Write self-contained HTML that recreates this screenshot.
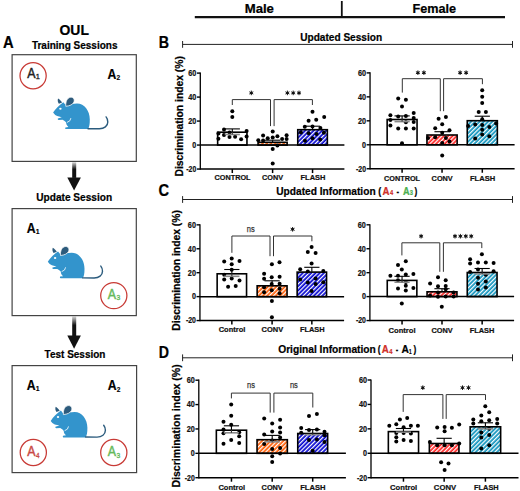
<!DOCTYPE html>
<html><head><meta charset="utf-8"><style>
html,body{margin:0;padding:0;background:#fff;width:520px;height:491px;overflow:hidden}
svg{display:block;font-family:"Liberation Sans", sans-serif}
</style></head><body>
<svg width="520" height="491" viewBox="0 0 520 491" font-family='"Liberation Sans", sans-serif'>
<rect width="520" height="491" fill="#fff"/>

<defs>
 <pattern id="hOr" width="3.0" height="3.0" patternUnits="userSpaceOnUse" patternTransform="rotate(45)">
  <rect width="3.0" height="3.0" fill="#ff5e05"/><rect width="1.25" height="3.0" fill="#fff"/></pattern>
 <pattern id="hBl" width="3.0" height="3.0" patternUnits="userSpaceOnUse" patternTransform="rotate(45)">
  <rect width="3.0" height="3.0" fill="#0505d0"/><rect width="1.25" height="3.0" fill="#fff"/></pattern>
 <pattern id="hRd" width="3.0" height="3.0" patternUnits="userSpaceOnUse" patternTransform="rotate(45)">
  <rect width="3.0" height="3.0" fill="#ff2424"/><rect width="1.25" height="3.0" fill="#fff"/></pattern>
 <pattern id="hTl" width="3.0" height="3.0" patternUnits="userSpaceOnUse" patternTransform="rotate(45)">
  <rect width="3.0" height="3.0" fill="#0f93bd"/><rect width="1.25" height="3.0" fill="#fff"/></pattern>
 <linearGradient id="arrowG" x1="0" y1="0" x2="0" y2="1">
  <stop offset="0" stop-color="#000" stop-opacity="0.15"/><stop offset="0.45" stop-color="#111" stop-opacity="1"/><stop offset="1" stop-color="#111"/></linearGradient>
 <g id="mouse">
  <path d="M53.1 112.6 C55.5 109 59.5 104.6 63.3 102.2 L65.2 104.6 C68.5 105.2 72 103.6 77 103.6 C84.5 103.6 89.8 111 89.8 119.5 C89.8 124.5 89.3 127.6 87.8 129.1 L66 129.1 Q65.1 129.1 65.2 128.2 L65.4 127.4 L68.4 127 C66.8 125.6 66 124 66.2 122.6 C64.8 121.2 63.6 120.2 62.6 119.8 L58.6 119.9 Q57.4 119.6 57.8 118.4 L61.8 117.2 L57.2 116.1 Q54.6 115.1 53.1 112.6 Z" fill="#3394cc"/>
  <path d="M65.8 106.3 C65.4 102 67 97.7 70.6 97.3 C73.5 97 74.9 99.6 73.9 102.1 C72.9 104.5 69.7 106 65.8 106.3 Z" fill="#2d5b7c" stroke="#fff" stroke-width="0.75"/>
  <path d="M62.1 102.5 C60.9 100.8 59.7 99.3 58.1 98.5 C57.4 100.2 57.7 102.3 58.9 103.7 Z" fill="#2d5b7c"/>
  <ellipse cx="60.4" cy="108.7" rx="1.2" ry="1.0" fill="#fff"/>
  <path d="M70.9 118.1 Q70.7 121.4 67 122.4" stroke="#fff" stroke-width="0.8" fill="none"/>
  <path d="M88 128.7 L99.4 128.8 C104.2 128.8 107.8 126 107.8 122 C107.8 119.6 107 118 106.1 116.9" stroke="#2b5b7d" stroke-width="1.4" fill="none" stroke-linecap="round"/>
 </g>
</defs>
<text x="3.03" y="47.8" font-size="16.2" font-weight="bold" fill="#000" stroke="#000" stroke-width="0.22" textLength="10.67" lengthAdjust="spacingAndGlyphs" >A</text>
<text x="59.54" y="35.3" font-size="15" font-weight="bold" fill="#000" stroke="#000" stroke-width="0.22" textLength="29.39" lengthAdjust="spacingAndGlyphs" >OUL</text>
<text x="31.90" y="48.6" font-size="11" font-weight="bold" fill="#000" stroke="#000" stroke-width="0.22" textLength="85.61" lengthAdjust="spacingAndGlyphs" >Training Sessions</text>
<text x="36.29" y="200.7" font-size="11" font-weight="bold" fill="#000" stroke="#000" stroke-width="0.22" textLength="75.81" lengthAdjust="spacingAndGlyphs" >Update Session</text>
<text x="44.60" y="358.4" font-size="11" font-weight="bold" fill="#000" stroke="#000" stroke-width="0.22" textLength="60.80" lengthAdjust="spacingAndGlyphs" >Test Session</text>
<rect x="12.1" y="54.7" width="124.20000000000002" height="106.7" fill="none" stroke="#444" stroke-width="1.2"/>
<rect x="12.1" y="208.6" width="124.20000000000002" height="107.00000000000003" fill="none" stroke="#444" stroke-width="1.2"/>
<rect x="12.1" y="365.6" width="124.5" height="107.0" fill="none" stroke="#444" stroke-width="1.2"/>
<rect x="72.2" y="162.2" width="4" height="15.700000000000017" fill="url(#arrowG)"/>
<path d="M67.3 177.4 L80.9 177.4 L74.1 190.6 Z" fill="#111"/>
<rect x="72.2" y="316.4" width="4" height="19.700000000000045" fill="url(#arrowG)"/>
<path d="M67.3 335.6 L80.9 335.6 L74.1 348.8 Z" fill="#111"/>
<use href="#mouse"/>
<use href="#mouse" transform="translate(-5.3 149.2)"/>
<use href="#mouse" transform="translate(-2.4 308.3)"/>
<circle cx="33.1" cy="75.75" r="13.1" fill="none" stroke="#c83a35" stroke-width="1.25"/>
<circle cx="113.8" cy="295.6" r="13.1" fill="none" stroke="#c83a35" stroke-width="1.25"/>
<circle cx="33.3" cy="452.5" r="13.1" fill="none" stroke="#c83a35" stroke-width="1.25"/>
<circle cx="113.8" cy="452.5" r="13.1" fill="none" stroke="#c83a35" stroke-width="1.25"/>
<text x="27.17" y="78.2" font-size="13.8" font-weight="normal" fill="#222" stroke="#222" stroke-width="0.45" textLength="8.26" lengthAdjust="spacingAndGlyphs">A</text>
<text x="35.65" y="79.4" font-size="7.8" font-weight="normal" fill="#222" stroke="#222" stroke-width="0.32" textLength="4.12" lengthAdjust="spacingAndGlyphs">1</text>
<text x="107.49" y="78.5" font-size="13.8" font-weight="bold" fill="#000" stroke="#000" stroke-width="0.22" textLength="8.84" lengthAdjust="spacingAndGlyphs">A</text>
<text x="116.57" y="79.7" font-size="7.8" font-weight="bold" fill="#000" stroke="#000" stroke-width="0.15" textLength="3.69" lengthAdjust="spacingAndGlyphs">2</text>
<text x="26.79" y="232.8" font-size="13.8" font-weight="bold" fill="#000" stroke="#000" stroke-width="0.22" textLength="8.84" lengthAdjust="spacingAndGlyphs">A</text>
<text x="35.67" y="234.0" font-size="7.8" font-weight="bold" fill="#000" stroke="#000" stroke-width="0.15" textLength="3.83" lengthAdjust="spacingAndGlyphs">1</text>
<text x="107.77" y="298.8" font-size="13.8" font-weight="normal" fill="#66b95a" stroke="#66b95a" stroke-width="0.45" textLength="8.26" lengthAdjust="spacingAndGlyphs">A</text>
<text x="116.55" y="300.0" font-size="7.8" font-weight="normal" fill="#66b95a" stroke="#66b95a" stroke-width="0.32" textLength="3.75" lengthAdjust="spacingAndGlyphs">3</text>
<text x="26.79" y="389.9" font-size="13.8" font-weight="bold" fill="#000" stroke="#000" stroke-width="0.22" textLength="8.84" lengthAdjust="spacingAndGlyphs">A</text>
<text x="35.67" y="391.09999999999997" font-size="7.8" font-weight="bold" fill="#000" stroke="#000" stroke-width="0.15" textLength="3.83" lengthAdjust="spacingAndGlyphs">1</text>
<text x="107.79" y="390.4" font-size="13.8" font-weight="bold" fill="#000" stroke="#000" stroke-width="0.22" textLength="8.84" lengthAdjust="spacingAndGlyphs">A</text>
<text x="116.87" y="391.59999999999997" font-size="7.8" font-weight="bold" fill="#000" stroke="#000" stroke-width="0.15" textLength="3.69" lengthAdjust="spacingAndGlyphs">2</text>
<text x="27.17" y="456.4" font-size="13.8" font-weight="normal" fill="#c94a45" stroke="#c94a45" stroke-width="0.45" textLength="8.26" lengthAdjust="spacingAndGlyphs">A</text>
<text x="36.06" y="457.59999999999997" font-size="7.8" font-weight="normal" fill="#c94a45" stroke="#c94a45" stroke-width="0.32" textLength="3.52" lengthAdjust="spacingAndGlyphs">4</text>
<text x="107.77" y="456.4" font-size="13.8" font-weight="normal" fill="#66b95a" stroke="#66b95a" stroke-width="0.45" textLength="8.26" lengthAdjust="spacingAndGlyphs">A</text>
<text x="116.55" y="457.59999999999997" font-size="7.8" font-weight="normal" fill="#66b95a" stroke="#66b95a" stroke-width="0.32" textLength="3.75" lengthAdjust="spacingAndGlyphs">3</text>
<text x="244.71" y="12.6" font-size="12.6" font-weight="bold" fill="#000" stroke="#000" stroke-width="0.22" textLength="29.22" lengthAdjust="spacingAndGlyphs" >Male</text>
<text x="412.55" y="12.6" font-size="12.6" font-weight="bold" fill="#000" stroke="#000" stroke-width="0.22" textLength="43.58" lengthAdjust="spacingAndGlyphs" >Female</text>
<line x1="194.8" y1="17.2" x2="505" y2="17.2" stroke="#111" stroke-width="2.2" />
<line x1="341.8" y1="1" x2="341.8" y2="17.5" stroke="#111" stroke-width="1.8" />
<text x="158.64" y="47.6" font-size="16.2" font-weight="bold" fill="#000" stroke="#000" stroke-width="0.22" textLength="10.30" lengthAdjust="spacingAndGlyphs" >B</text>
<text x="158.51" y="195.8" font-size="16.2" font-weight="bold" fill="#000" stroke="#000" stroke-width="0.22" textLength="10.64" lengthAdjust="spacingAndGlyphs" >C</text>
<text x="158.64" y="357.6" font-size="16.2" font-weight="bold" fill="#000" stroke="#000" stroke-width="0.22" textLength="10.26" lengthAdjust="spacingAndGlyphs" >D</text>
<line x1="182.6" y1="44.4" x2="512.5" y2="44.4" stroke="#222" stroke-width="1.0" />
<line x1="182.6" y1="41.0" x2="182.6" y2="47.8" stroke="#222" stroke-width="1.0" />
<line x1="512.5" y1="41.0" x2="512.5" y2="47.8" stroke="#222" stroke-width="1.0" />
<line x1="182.6" y1="199.5" x2="512.5" y2="199.5" stroke="#222" stroke-width="1.0" />
<line x1="182.6" y1="196.1" x2="182.6" y2="202.9" stroke="#222" stroke-width="1.0" />
<line x1="512.5" y1="196.1" x2="512.5" y2="202.9" stroke="#222" stroke-width="1.0" />
<line x1="182.6" y1="357.8" x2="512.5" y2="357.8" stroke="#222" stroke-width="1.0" />
<line x1="182.6" y1="354.40000000000003" x2="182.6" y2="361.2" stroke="#222" stroke-width="1.0" />
<line x1="512.5" y1="354.40000000000003" x2="512.5" y2="361.2" stroke="#222" stroke-width="1.0" />
<text x="300.19" y="40.6" font-size="11" font-weight="bold" fill="#000" stroke="#000" stroke-width="0.22" textLength="81.92" lengthAdjust="spacingAndGlyphs" >Updated Session</text>
<text x="276.29" y="194.5" font-size="11" font-weight="bold" fill="#000" stroke="#000" stroke-width="0.22" textLength="99.32" lengthAdjust="spacingAndGlyphs" >Updated Information</text>
<text x="378.2" y="195.1" font-size="11" font-weight="bold" fill="#000" stroke="#000" stroke-width="0.22" textLength="3.0" lengthAdjust="spacingAndGlyphs">(</text>
<text x="382.5" y="194.5" font-size="11" font-weight="bold" fill="#d0302a" stroke="#d0302a" stroke-width="0.22" textLength="7.0" lengthAdjust="spacingAndGlyphs">A</text>
<text x="389.9" y="195.4" font-size="7" font-weight="bold" fill="#d0302a" stroke="#d0302a" stroke-width="0.22" textLength="3.2" lengthAdjust="spacingAndGlyphs">4</text>
<text x="396.4" y="194.5" font-size="11" font-weight="bold" fill="#000" stroke="#000" stroke-width="0.22" textLength="2.6" lengthAdjust="spacingAndGlyphs">-</text>
<text x="403.0" y="194.5" font-size="11" font-weight="bold" fill="#4caf50" stroke="#4caf50" stroke-width="0.22" textLength="6.6" lengthAdjust="spacingAndGlyphs">A</text>
<text x="409.8" y="195.4" font-size="7" font-weight="bold" fill="#4caf50" stroke="#4caf50" stroke-width="0.22" textLength="3.2" lengthAdjust="spacingAndGlyphs">3</text>
<text x="414.4" y="195.1" font-size="11" font-weight="bold" fill="#000" stroke="#000" stroke-width="0.22" textLength="2.8" lengthAdjust="spacingAndGlyphs">)</text>
<text x="278.19" y="352.6" font-size="11" font-weight="bold" fill="#000" stroke="#000" stroke-width="0.22" textLength="97.63" lengthAdjust="spacingAndGlyphs" >Original Information</text>
<text x="377.7" y="353.20000000000005" font-size="11" font-weight="bold" fill="#000" stroke="#000" stroke-width="0.22" textLength="2.8" lengthAdjust="spacingAndGlyphs">(</text>
<text x="381.8" y="352.6" font-size="11" font-weight="bold" fill="#d0302a" stroke="#d0302a" stroke-width="0.22" textLength="7.1" lengthAdjust="spacingAndGlyphs">A</text>
<text x="389.2" y="353.5" font-size="7" font-weight="bold" fill="#d0302a" stroke="#d0302a" stroke-width="0.22" textLength="3.2" lengthAdjust="spacingAndGlyphs">4</text>
<text x="395.7" y="352.6" font-size="11" font-weight="bold" fill="#000" stroke="#000" stroke-width="0.22" textLength="2.5" lengthAdjust="spacingAndGlyphs">-</text>
<text x="401.5" y="352.6" font-size="11" font-weight="bold" fill="#000" stroke="#000" stroke-width="0.22" textLength="7.4" lengthAdjust="spacingAndGlyphs">A</text>
<text x="409.0" y="353.5" font-size="7" font-weight="bold" fill="#000" stroke="#000" stroke-width="0.22" textLength="2.6" lengthAdjust="spacingAndGlyphs">1</text>
<text x="413.5" y="353.20000000000005" font-size="11" font-weight="bold" fill="#000" stroke="#000" stroke-width="0.22" textLength="2.8" lengthAdjust="spacingAndGlyphs">)</text>
<text x="183.0" y="116.3" font-size="10.9" font-weight="bold" stroke="#000" stroke-width="0.22" text-anchor="middle" textLength="120.4" lengthAdjust="spacingAndGlyphs" transform="rotate(-90 183.0 116.3)">Discrimination index (%)</text>
<line x1="196.9" y1="73.1" x2="200.3" y2="73.1" stroke="#000" stroke-width="1.4" />
<text x="188.20000000000002" y="75.94999999999999" font-size="8.2" font-weight="bold" fill="#111" stroke="#111" stroke-width="0.2" textLength="8.1" lengthAdjust="spacingAndGlyphs">60</text>
<line x1="196.9" y1="97.0875" x2="200.3" y2="97.0875" stroke="#000" stroke-width="1.4" />
<text x="188.20000000000002" y="99.9375" font-size="8.2" font-weight="bold" fill="#111" stroke="#111" stroke-width="0.2" textLength="8.1" lengthAdjust="spacingAndGlyphs">40</text>
<line x1="196.9" y1="121.075" x2="200.3" y2="121.075" stroke="#000" stroke-width="1.4" />
<text x="188.20000000000002" y="123.925" font-size="8.2" font-weight="bold" fill="#111" stroke="#111" stroke-width="0.2" textLength="8.1" lengthAdjust="spacingAndGlyphs">20</text>
<line x1="196.9" y1="145.0625" x2="200.3" y2="145.0625" stroke="#000" stroke-width="1.4" />
<text x="192.3" y="147.9125" font-size="8.2" font-weight="bold" fill="#111" stroke="#111" stroke-width="0.2" textLength="4.0" lengthAdjust="spacingAndGlyphs">0</text>
<line x1="196.9" y1="169.05" x2="200.3" y2="169.05" stroke="#000" stroke-width="1.4" />
<text x="186.3" y="171.9" font-size="8.2" font-weight="bold" fill="#111" stroke="#111" stroke-width="0.2" textLength="10.0" lengthAdjust="spacingAndGlyphs">-20</text>
<rect x="217.65" y="132.20000000000002" width="29.299999999999983" height="12.862499999999994" fill="#fff" stroke="#000" stroke-width="1.6"/>
<rect x="258.05" y="142.3" width="29.099999999999966" height="2.7625" fill="url(#hOr)" stroke="#000" stroke-width="1.6"/>
<rect x="297.75" y="129.70000000000002" width="29.600000000000023" height="15.362499999999994" fill="url(#hBl)" stroke="#000" stroke-width="1.6"/>
<circle cx="232.3" cy="111.2" r="2.0" fill="#000"/>
<circle cx="232.3" cy="117.1" r="2.0" fill="#000"/>
<circle cx="224" cy="129.4" r="2.0" fill="#000"/>
<circle cx="229.5" cy="132.4" r="2.0" fill="#000"/>
<circle cx="246.6" cy="131.1" r="2.0" fill="#000"/>
<circle cx="224" cy="135.1" r="2.0" fill="#000"/>
<circle cx="229.5" cy="137.1" r="2.0" fill="#000"/>
<circle cx="235.1" cy="136.8" r="2.0" fill="#000"/>
<circle cx="241.1" cy="139.2" r="2.0" fill="#000"/>
<circle cx="246.6" cy="136.6" r="2.0" fill="#000"/>
<circle cx="218.4" cy="138.8" r="2.0" fill="#000"/>
<circle cx="218.4" cy="133.5" r="2.0" fill="#000"/>
<circle cx="272.7" cy="131.4" r="2.0" fill="#000"/>
<circle cx="263.1" cy="135.4" r="2.0" fill="#000"/>
<circle cx="286.6" cy="135.3" r="2.0" fill="#000"/>
<circle cx="267.7" cy="138.2" r="2.0" fill="#000"/>
<circle cx="272.7" cy="137.6" r="2.0" fill="#000"/>
<circle cx="277.4" cy="136.3" r="2.0" fill="#000"/>
<circle cx="282.1" cy="139.1" r="2.0" fill="#000"/>
<circle cx="258.3" cy="140.2" r="2.0" fill="#000"/>
<circle cx="263.1" cy="140.4" r="2.0" fill="#000"/>
<circle cx="286.6" cy="139.1" r="2.0" fill="#000"/>
<circle cx="277.4" cy="145.5" r="2.0" fill="#000"/>
<circle cx="272.7" cy="149.1" r="2.0" fill="#000"/>
<circle cx="272.7" cy="163.5" r="2.0" fill="#000"/>
<circle cx="312.5" cy="111.7" r="2.0" fill="#000"/>
<circle cx="324.2" cy="117" r="2.0" fill="#000"/>
<circle cx="308.6" cy="120.8" r="2.0" fill="#000"/>
<circle cx="316.2" cy="119.7" r="2.0" fill="#000"/>
<circle cx="304.8" cy="126.8" r="2.0" fill="#000"/>
<circle cx="312.5" cy="126.4" r="2.0" fill="#000"/>
<circle cx="320.4" cy="127.9" r="2.0" fill="#000"/>
<circle cx="300.9" cy="132.5" r="2.0" fill="#000"/>
<circle cx="308.6" cy="133.2" r="2.0" fill="#000"/>
<circle cx="316.5" cy="134.1" r="2.0" fill="#000"/>
<circle cx="323.9" cy="132.8" r="2.0" fill="#000"/>
<circle cx="312.5" cy="138.3" r="2.0" fill="#000"/>
<circle cx="305" cy="140.7" r="2.0" fill="#000"/>
<circle cx="320.2" cy="139.6" r="2.0" fill="#000"/>
<line x1="232.3" y1="128.9" x2="232.3" y2="131.9" stroke="#000" stroke-width="1.1" />
<line x1="224.70000000000002" y1="128.9" x2="239.9" y2="128.9" stroke="#000" stroke-width="1.1" />
<line x1="224.70000000000002" y1="134.5" x2="239.9" y2="134.5" stroke="#8a8a8a" stroke-width="1.6" />
<line x1="232.3" y1="131.9" x2="232.3" y2="134.5" stroke="#333" stroke-width="1.1" />
<line x1="272.6" y1="140.2" x2="272.6" y2="142.0" stroke="#000" stroke-width="1.1" />
<line x1="265.0" y1="140.2" x2="280.20000000000005" y2="140.2" stroke="#000" stroke-width="1.1" />
<line x1="312.55" y1="126.2" x2="312.55" y2="129.4" stroke="#000" stroke-width="1.1" />
<line x1="304.95" y1="126.2" x2="320.15000000000003" y2="126.2" stroke="#000" stroke-width="1.1" />
<line x1="200.3" y1="72.5" x2="200.3" y2="169.75" stroke="#000" stroke-width="1.3" />
<line x1="200.3" y1="145.0625" x2="344.4" y2="145.0625" stroke="#000" stroke-width="1.5" />
<line x1="200.3" y1="169.05" x2="344.4" y2="169.05" stroke="#000" stroke-width="1.5" />
<line x1="232.3" y1="169.05" x2="232.3" y2="173.05" stroke="#000" stroke-width="1.5" />
<text x="214.51" y="180.1" font-size="7.7" font-weight="bold" fill="#111" stroke="#111" stroke-width="0.22" textLength="36.02" lengthAdjust="spacingAndGlyphs" >CONTROL</text>
<line x1="272.6" y1="169.05" x2="272.6" y2="173.05" stroke="#000" stroke-width="1.5" />
<text x="262.01" y="180.1" font-size="7.7" font-weight="bold" fill="#111" stroke="#111" stroke-width="0.22" textLength="21.04" lengthAdjust="spacingAndGlyphs" >CONV</text>
<line x1="312.55" y1="169.05" x2="312.55" y2="173.05" stroke="#000" stroke-width="1.5" />
<text x="300.50" y="180.1" font-size="7.7" font-weight="bold" fill="#111" stroke="#111" stroke-width="0.22" textLength="24.91" lengthAdjust="spacingAndGlyphs" >FLASH</text>
<polyline points="232.3,105 232.3,99.6 270.5,99.6 270.5,126.1" fill="none" stroke="#333" stroke-width="1"/>
<path d="M251.30 90.60L251.30 95.20M249.31 91.75L253.29 94.05M249.31 94.05L253.29 91.75" stroke="#111" stroke-width="0.95" fill="none"/>
<circle cx="251.30" cy="92.90" r="1.25" fill="#111"/>
<polyline points="274.1,126.1 274.1,99.6 312.4,99.6 312.4,105" fill="none" stroke="#333" stroke-width="1"/>
<path d="M287.40 90.60L287.40 95.20M285.41 91.75L289.39 94.05M285.41 94.05L289.39 91.75" stroke="#111" stroke-width="0.95" fill="none"/>
<circle cx="287.40" cy="92.90" r="1.25" fill="#111"/>
<path d="M293.20 90.60L293.20 95.20M291.21 91.75L295.19 94.05M291.21 94.05L295.19 91.75" stroke="#111" stroke-width="0.95" fill="none"/>
<circle cx="293.20" cy="92.90" r="1.25" fill="#111"/>
<path d="M299.00 90.60L299.00 95.20M297.01 91.75L300.99 94.05M297.01 94.05L300.99 91.75" stroke="#111" stroke-width="0.95" fill="none"/>
<circle cx="299.00" cy="92.90" r="1.25" fill="#111"/>
<line x1="366.65000000000003" y1="72.9" x2="370.05" y2="72.9" stroke="#000" stroke-width="1.4" />
<text x="357.95" y="75.75" font-size="8.2" font-weight="bold" fill="#111" stroke="#111" stroke-width="0.2" textLength="8.1" lengthAdjust="spacingAndGlyphs">60</text>
<line x1="366.65000000000003" y1="96.86250000000001" x2="370.05" y2="96.86250000000001" stroke="#000" stroke-width="1.4" />
<text x="357.95" y="99.7125" font-size="8.2" font-weight="bold" fill="#111" stroke="#111" stroke-width="0.2" textLength="8.1" lengthAdjust="spacingAndGlyphs">40</text>
<line x1="366.65000000000003" y1="120.825" x2="370.05" y2="120.825" stroke="#000" stroke-width="1.4" />
<text x="357.95" y="123.675" font-size="8.2" font-weight="bold" fill="#111" stroke="#111" stroke-width="0.2" textLength="8.1" lengthAdjust="spacingAndGlyphs">20</text>
<line x1="366.65000000000003" y1="144.7875" x2="370.05" y2="144.7875" stroke="#000" stroke-width="1.4" />
<text x="362.05" y="147.6375" font-size="8.2" font-weight="bold" fill="#111" stroke="#111" stroke-width="0.2" textLength="4.0" lengthAdjust="spacingAndGlyphs">0</text>
<line x1="366.65000000000003" y1="168.75" x2="370.05" y2="168.75" stroke="#000" stroke-width="1.4" />
<text x="356.05" y="171.6" font-size="8.2" font-weight="bold" fill="#111" stroke="#111" stroke-width="0.2" textLength="10.0" lengthAdjust="spacingAndGlyphs">-20</text>
<rect x="387.15" y="119.5" width="29.900000000000034" height="25.28749999999999" fill="#fff" stroke="#000" stroke-width="1.6"/>
<rect x="426.95" y="135.0" width="30.19999999999999" height="9.787500000000005" fill="url(#hRd)" stroke="#000" stroke-width="1.6"/>
<rect x="467.25" y="120.7" width="30.100000000000023" height="24.087499999999988" fill="url(#hTl)" stroke="#000" stroke-width="1.6"/>
<circle cx="398.2" cy="98.5" r="2.0" fill="#000"/>
<circle cx="405.9" cy="99.8" r="2.0" fill="#000"/>
<circle cx="402" cy="106.6" r="2.0" fill="#000"/>
<circle cx="390.4" cy="115.3" r="2.0" fill="#000"/>
<circle cx="398.2" cy="116.4" r="2.0" fill="#000"/>
<circle cx="405.9" cy="116.1" r="2.0" fill="#000"/>
<circle cx="413.7" cy="113.1" r="2.0" fill="#000"/>
<circle cx="390.4" cy="120" r="2.0" fill="#000"/>
<circle cx="413.7" cy="118" r="2.0" fill="#000"/>
<circle cx="405.9" cy="122.3" r="2.0" fill="#000"/>
<circle cx="413.7" cy="122" r="2.0" fill="#000"/>
<circle cx="390.4" cy="125.6" r="2.0" fill="#000"/>
<circle cx="398.2" cy="128.4" r="2.0" fill="#000"/>
<circle cx="405.9" cy="128.4" r="2.0" fill="#000"/>
<circle cx="413.7" cy="128.4" r="2.0" fill="#000"/>
<circle cx="402" cy="143.3" r="2.0" fill="#000"/>
<circle cx="438.6" cy="118.8" r="2.0" fill="#000"/>
<circle cx="445.9" cy="117.1" r="2.0" fill="#000"/>
<circle cx="442.2" cy="124.3" r="2.0" fill="#000"/>
<circle cx="435.2" cy="128.3" r="2.0" fill="#000"/>
<circle cx="449.5" cy="130.2" r="2.0" fill="#000"/>
<circle cx="442.2" cy="132.8" r="2.0" fill="#000"/>
<circle cx="428" cy="138.1" r="2.0" fill="#000"/>
<circle cx="435.2" cy="137.3" r="2.0" fill="#000"/>
<circle cx="445.9" cy="138.1" r="2.0" fill="#000"/>
<circle cx="449.5" cy="141.4" r="2.0" fill="#000"/>
<circle cx="442.2" cy="143.1" r="2.0" fill="#000"/>
<circle cx="442.2" cy="155.4" r="2.0" fill="#000"/>
<circle cx="482.2" cy="90.2" r="2.0" fill="#000"/>
<circle cx="482.2" cy="96.7" r="2.0" fill="#000"/>
<circle cx="482.2" cy="102.9" r="2.0" fill="#000"/>
<circle cx="478.7" cy="112.1" r="2.0" fill="#000"/>
<circle cx="485.9" cy="112.1" r="2.0" fill="#000"/>
<circle cx="482.2" cy="119.3" r="2.0" fill="#000"/>
<circle cx="475.2" cy="124.4" r="2.0" fill="#000"/>
<circle cx="482.2" cy="125.1" r="2.0" fill="#000"/>
<circle cx="489.3" cy="127.1" r="2.0" fill="#000"/>
<circle cx="468.1" cy="126.1" r="2.0" fill="#000"/>
<circle cx="496.1" cy="123.4" r="2.0" fill="#000"/>
<circle cx="482.2" cy="129.8" r="2.0" fill="#000"/>
<circle cx="482.2" cy="134.6" r="2.0" fill="#000"/>
<circle cx="475.2" cy="138.4" r="2.0" fill="#000"/>
<circle cx="489.3" cy="136.2" r="2.0" fill="#000"/>
<line x1="402.1" y1="115.9" x2="402.1" y2="119.2" stroke="#000" stroke-width="1.1" />
<line x1="394.5" y1="115.9" x2="409.70000000000005" y2="115.9" stroke="#000" stroke-width="1.1" />
<line x1="394.5" y1="121.6" x2="409.70000000000005" y2="121.6" stroke="#8a8a8a" stroke-width="1.6" />
<line x1="402.1" y1="119.2" x2="402.1" y2="121.6" stroke="#333" stroke-width="1.1" />
<line x1="442.04999999999995" y1="131.7" x2="442.04999999999995" y2="134.7" stroke="#000" stroke-width="1.1" />
<line x1="434.44999999999993" y1="131.7" x2="449.65" y2="131.7" stroke="#000" stroke-width="1.1" />
<line x1="482.3" y1="116.2" x2="482.3" y2="120.4" stroke="#000" stroke-width="1.1" />
<line x1="474.7" y1="116.2" x2="489.90000000000003" y2="116.2" stroke="#000" stroke-width="1.1" />
<line x1="370.05" y1="72.30000000000001" x2="370.05" y2="169.45" stroke="#000" stroke-width="1.3" />
<line x1="370.05" y1="144.7875" x2="514.6" y2="144.7875" stroke="#000" stroke-width="1.5" />
<line x1="370.05" y1="168.75" x2="514.6" y2="168.75" stroke="#000" stroke-width="1.5" />
<line x1="402.1" y1="168.75" x2="402.1" y2="172.75" stroke="#000" stroke-width="1.5" />
<text x="384.01" y="181.0" font-size="7.7" font-weight="bold" fill="#111" stroke="#111" stroke-width="0.22" textLength="36.02" lengthAdjust="spacingAndGlyphs" >CONTROL</text>
<line x1="442.04999999999995" y1="168.75" x2="442.04999999999995" y2="172.75" stroke="#000" stroke-width="1.5" />
<text x="431.61" y="181.0" font-size="7.7" font-weight="bold" fill="#111" stroke="#111" stroke-width="0.22" textLength="21.14" lengthAdjust="spacingAndGlyphs" >CONV</text>
<line x1="482.3" y1="168.75" x2="482.3" y2="172.75" stroke="#000" stroke-width="1.5" />
<text x="469.99" y="181.0" font-size="7.7" font-weight="bold" fill="#111" stroke="#111" stroke-width="0.22" textLength="25.12" lengthAdjust="spacingAndGlyphs" >FLASH</text>
<polyline points="402.3,92.6 402.3,78.7 440.3,78.7 440.3,111.2" fill="none" stroke="#333" stroke-width="1"/>
<path d="M417.90 70.40L417.90 75.00M415.91 71.55L419.89 73.85M415.91 73.85L419.89 71.55" stroke="#111" stroke-width="0.95" fill="none"/>
<circle cx="417.90" cy="72.70" r="1.25" fill="#111"/>
<path d="M423.90 70.40L423.90 75.00M421.91 71.55L425.89 73.85M421.91 73.85L425.89 71.55" stroke="#111" stroke-width="0.95" fill="none"/>
<circle cx="423.90" cy="72.70" r="1.25" fill="#111"/>
<polyline points="443.6,111.2 443.6,78.7 482.4,78.7 482.4,84.2" fill="none" stroke="#333" stroke-width="1"/>
<path d="M460.10 70.40L460.10 75.00M458.11 71.55L462.09 73.85M458.11 73.85L462.09 71.55" stroke="#111" stroke-width="0.95" fill="none"/>
<circle cx="460.10" cy="72.70" r="1.25" fill="#111"/>
<path d="M466.10 70.40L466.10 75.00M464.11 71.55L468.09 73.85M464.11 73.85L468.09 71.55" stroke="#111" stroke-width="0.95" fill="none"/>
<circle cx="466.10" cy="72.70" r="1.25" fill="#111"/>
<text x="180.0" y="270.4" font-size="10.9" font-weight="bold" stroke="#000" stroke-width="0.22" text-anchor="middle" textLength="120.6" lengthAdjust="spacingAndGlyphs" transform="rotate(-90 180.0 270.4)">Discrimination index (%)</text>
<line x1="196.54999999999998" y1="224.85" x2="199.95" y2="224.85" stroke="#000" stroke-width="1.4" />
<text x="187.85" y="227.7" font-size="8.2" font-weight="bold" fill="#111" stroke="#111" stroke-width="0.2" textLength="8.1" lengthAdjust="spacingAndGlyphs">60</text>
<line x1="196.54999999999998" y1="248.775" x2="199.95" y2="248.775" stroke="#000" stroke-width="1.4" />
<text x="187.85" y="251.625" font-size="8.2" font-weight="bold" fill="#111" stroke="#111" stroke-width="0.2" textLength="8.1" lengthAdjust="spacingAndGlyphs">40</text>
<line x1="196.54999999999998" y1="272.7" x2="199.95" y2="272.7" stroke="#000" stroke-width="1.4" />
<text x="187.85" y="275.55" font-size="8.2" font-weight="bold" fill="#111" stroke="#111" stroke-width="0.2" textLength="8.1" lengthAdjust="spacingAndGlyphs">20</text>
<line x1="196.54999999999998" y1="296.625" x2="199.95" y2="296.625" stroke="#000" stroke-width="1.4" />
<text x="191.95" y="299.475" font-size="8.2" font-weight="bold" fill="#111" stroke="#111" stroke-width="0.2" textLength="4.0" lengthAdjust="spacingAndGlyphs">0</text>
<line x1="196.54999999999998" y1="320.55" x2="199.95" y2="320.55" stroke="#000" stroke-width="1.4" />
<text x="185.95" y="323.40000000000003" font-size="8.2" font-weight="bold" fill="#111" stroke="#111" stroke-width="0.2" textLength="10.0" lengthAdjust="spacingAndGlyphs">-20</text>
<rect x="217.15" y="273.8" width="29.400000000000006" height="22.825" fill="#fff" stroke="#000" stroke-width="1.6"/>
<rect x="257.15" y="285.8" width="29.900000000000034" height="10.825" fill="url(#hOr)" stroke="#000" stroke-width="1.6"/>
<rect x="297.15" y="272.1" width="29.400000000000034" height="24.524999999999988" fill="url(#hBl)" stroke="#000" stroke-width="1.6"/>
<circle cx="231.7" cy="258.5" r="2.0" fill="#000"/>
<circle cx="224.2" cy="261.6" r="2.0" fill="#000"/>
<circle cx="239.5" cy="261" r="2.0" fill="#000"/>
<circle cx="231.7" cy="264.2" r="2.0" fill="#000"/>
<circle cx="231.7" cy="269.7" r="2.0" fill="#000"/>
<circle cx="224.2" cy="274.7" r="2.0" fill="#000"/>
<circle cx="231.7" cy="278.4" r="2.0" fill="#000"/>
<circle cx="224.2" cy="279.6" r="2.0" fill="#000"/>
<circle cx="239.5" cy="280.5" r="2.0" fill="#000"/>
<circle cx="228.1" cy="286.7" r="2.0" fill="#000"/>
<circle cx="235.7" cy="286" r="2.0" fill="#000"/>
<circle cx="271.9" cy="264.3" r="2.0" fill="#000"/>
<circle cx="279.5" cy="262.3" r="2.0" fill="#000"/>
<circle cx="264.1" cy="273.7" r="2.0" fill="#000"/>
<circle cx="271.7" cy="277.3" r="2.0" fill="#000"/>
<circle cx="279.6" cy="276.7" r="2.0" fill="#000"/>
<circle cx="264.1" cy="278.7" r="2.0" fill="#000"/>
<circle cx="271.7" cy="284.1" r="2.0" fill="#000"/>
<circle cx="279.6" cy="283.8" r="2.0" fill="#000"/>
<circle cx="264.1" cy="287.2" r="2.0" fill="#000"/>
<circle cx="271.7" cy="290.2" r="2.0" fill="#000"/>
<circle cx="279.6" cy="288.8" r="2.0" fill="#000"/>
<circle cx="264.1" cy="292.2" r="2.0" fill="#000"/>
<circle cx="279.6" cy="293.2" r="2.0" fill="#000"/>
<circle cx="271.9" cy="301.1" r="2.0" fill="#000"/>
<circle cx="271.9" cy="317.3" r="2.0" fill="#000"/>
<circle cx="311.6" cy="247.1" r="2.0" fill="#000"/>
<circle cx="307.8" cy="252.1" r="2.0" fill="#000"/>
<circle cx="315.6" cy="252.9" r="2.0" fill="#000"/>
<circle cx="311.6" cy="263.5" r="2.0" fill="#000"/>
<circle cx="300.2" cy="269.3" r="2.0" fill="#000"/>
<circle cx="307.8" cy="271.4" r="2.0" fill="#000"/>
<circle cx="323.3" cy="271.1" r="2.0" fill="#000"/>
<circle cx="300.2" cy="279.4" r="2.0" fill="#000"/>
<circle cx="315.6" cy="278.6" r="2.0" fill="#000"/>
<circle cx="307.8" cy="282.4" r="2.0" fill="#000"/>
<circle cx="315.6" cy="284.1" r="2.0" fill="#000"/>
<circle cx="323.3" cy="282.2" r="2.0" fill="#000"/>
<circle cx="311.6" cy="291" r="2.0" fill="#000"/>
<line x1="231.85000000000002" y1="269.5" x2="231.85000000000002" y2="273.5" stroke="#000" stroke-width="1.1" />
<line x1="224.25000000000003" y1="269.5" x2="239.45000000000002" y2="269.5" stroke="#000" stroke-width="1.1" />
<line x1="224.25000000000003" y1="276.3" x2="239.45000000000002" y2="276.3" stroke="#8a8a8a" stroke-width="1.6" />
<line x1="231.85000000000002" y1="273.5" x2="231.85000000000002" y2="276.3" stroke="#333" stroke-width="1.1" />
<line x1="272.1" y1="280.8" x2="272.1" y2="285.5" stroke="#000" stroke-width="1.1" />
<line x1="264.5" y1="280.8" x2="279.70000000000005" y2="280.8" stroke="#000" stroke-width="1.1" />
<line x1="311.85" y1="267.3" x2="311.85" y2="271.8" stroke="#000" stroke-width="1.1" />
<line x1="304.25" y1="267.3" x2="319.45000000000005" y2="267.3" stroke="#000" stroke-width="1.1" />
<line x1="199.95" y1="224.25" x2="199.95" y2="321.25" stroke="#000" stroke-width="1.3" />
<line x1="199.95" y1="296.625" x2="344.1" y2="296.625" stroke="#000" stroke-width="1.5" />
<line x1="199.95" y1="320.55" x2="344.1" y2="320.55" stroke="#000" stroke-width="1.5" />
<line x1="231.85000000000002" y1="320.55" x2="231.85000000000002" y2="324.55" stroke="#000" stroke-width="1.5" />
<text x="218.70" y="332.4" font-size="7.3" font-weight="bold" fill="#111" stroke="#111" stroke-width="0.22" textLength="26.62" lengthAdjust="spacingAndGlyphs" >Control</text>
<line x1="272.1" y1="320.55" x2="272.1" y2="324.55" stroke="#000" stroke-width="1.5" />
<text x="261.60" y="332.4" font-size="7.3" font-weight="bold" fill="#111" stroke="#111" stroke-width="0.22" textLength="21.55" lengthAdjust="spacingAndGlyphs" >CONV</text>
<line x1="311.85" y1="320.55" x2="311.85" y2="324.55" stroke="#000" stroke-width="1.5" />
<text x="299.90" y="332.4" font-size="7.3" font-weight="bold" fill="#111" stroke="#111" stroke-width="0.22" textLength="24.70" lengthAdjust="spacingAndGlyphs" >FLASH</text>
<polyline points="231.9,252.8 231.9,236.0 270.0,236.0 270.0,256.2" fill="none" stroke="#333" stroke-width="1"/>
<text x="250.8" y="231.5" font-size="9.2" text-anchor="middle" fill="#333" stroke="#333" stroke-width="0.25" textLength="7.9" lengthAdjust="spacingAndGlyphs">ns</text>
<polyline points="273.5,256.2 273.5,236.0 311.9,236.0 311.9,241.3" fill="none" stroke="#333" stroke-width="1"/>
<path d="M292.60 227.00L292.60 231.60M290.61 228.15L294.59 230.45M290.61 230.45L294.59 228.15" stroke="#111" stroke-width="0.95" fill="none"/>
<circle cx="292.60" cy="229.30" r="1.25" fill="#111"/>
<line x1="366.5" y1="224.8" x2="369.9" y2="224.8" stroke="#000" stroke-width="1.4" />
<text x="357.79999999999995" y="227.65" font-size="8.2" font-weight="bold" fill="#111" stroke="#111" stroke-width="0.2" textLength="8.1" lengthAdjust="spacingAndGlyphs">60</text>
<line x1="366.5" y1="248.7375" x2="369.9" y2="248.7375" stroke="#000" stroke-width="1.4" />
<text x="357.79999999999995" y="251.5875" font-size="8.2" font-weight="bold" fill="#111" stroke="#111" stroke-width="0.2" textLength="8.1" lengthAdjust="spacingAndGlyphs">40</text>
<line x1="366.5" y1="272.675" x2="369.9" y2="272.675" stroke="#000" stroke-width="1.4" />
<text x="357.79999999999995" y="275.52500000000003" font-size="8.2" font-weight="bold" fill="#111" stroke="#111" stroke-width="0.2" textLength="8.1" lengthAdjust="spacingAndGlyphs">20</text>
<line x1="366.5" y1="296.6125" x2="369.9" y2="296.6125" stroke="#000" stroke-width="1.4" />
<text x="361.9" y="299.46250000000003" font-size="8.2" font-weight="bold" fill="#111" stroke="#111" stroke-width="0.2" textLength="4.0" lengthAdjust="spacingAndGlyphs">0</text>
<line x1="366.5" y1="320.55" x2="369.9" y2="320.55" stroke="#000" stroke-width="1.4" />
<text x="355.9" y="323.40000000000003" font-size="8.2" font-weight="bold" fill="#111" stroke="#111" stroke-width="0.2" textLength="10.0" lengthAdjust="spacingAndGlyphs">-20</text>
<rect x="387.25" y="280.40000000000003" width="29.600000000000023" height="16.212499999999988" fill="#fff" stroke="#000" stroke-width="1.6"/>
<rect x="427.05" y="291.8" width="29.899999999999977" height="4.8125000000000115" fill="url(#hRd)" stroke="#000" stroke-width="1.6"/>
<rect x="467.25" y="272.5" width="29.80000000000001" height="24.112500000000022" fill="url(#hTl)" stroke="#000" stroke-width="1.6"/>
<circle cx="405.8" cy="261.2" r="2.0" fill="#000"/>
<circle cx="398" cy="265.1" r="2.0" fill="#000"/>
<circle cx="401.8" cy="269.6" r="2.0" fill="#000"/>
<circle cx="390.4" cy="275.7" r="2.0" fill="#000"/>
<circle cx="398" cy="275.7" r="2.0" fill="#000"/>
<circle cx="405.8" cy="274.6" r="2.0" fill="#000"/>
<circle cx="413.4" cy="274" r="2.0" fill="#000"/>
<circle cx="398" cy="280.2" r="2.0" fill="#000"/>
<circle cx="405.8" cy="281.9" r="2.0" fill="#000"/>
<circle cx="405.8" cy="285.8" r="2.0" fill="#000"/>
<circle cx="398" cy="288.4" r="2.0" fill="#000"/>
<circle cx="413.4" cy="288.1" r="2.0" fill="#000"/>
<circle cx="405.8" cy="290.6" r="2.0" fill="#000"/>
<circle cx="401.8" cy="303.4" r="2.0" fill="#000"/>
<circle cx="438" cy="277.3" r="2.0" fill="#000"/>
<circle cx="445.7" cy="280.3" r="2.0" fill="#000"/>
<circle cx="430.1" cy="283.4" r="2.0" fill="#000"/>
<circle cx="438" cy="286.2" r="2.0" fill="#000"/>
<circle cx="445.7" cy="285.9" r="2.0" fill="#000"/>
<circle cx="445.7" cy="289.3" r="2.0" fill="#000"/>
<circle cx="438" cy="292.5" r="2.0" fill="#000"/>
<circle cx="430.1" cy="295.6" r="2.0" fill="#000"/>
<circle cx="438" cy="296.8" r="2.0" fill="#000"/>
<circle cx="445.7" cy="296.6" r="2.0" fill="#000"/>
<circle cx="453.6" cy="296.6" r="2.0" fill="#000"/>
<circle cx="453.6" cy="292.5" r="2.0" fill="#000"/>
<circle cx="441.8" cy="306.8" r="2.0" fill="#000"/>
<circle cx="481.9" cy="254.2" r="2.0" fill="#000"/>
<circle cx="470.1" cy="259.3" r="2.0" fill="#000"/>
<circle cx="470.1" cy="263.5" r="2.0" fill="#000"/>
<circle cx="478" cy="262.6" r="2.0" fill="#000"/>
<circle cx="485.8" cy="262.6" r="2.0" fill="#000"/>
<circle cx="493.6" cy="262.9" r="2.0" fill="#000"/>
<circle cx="478" cy="269.4" r="2.0" fill="#000"/>
<circle cx="470.1" cy="271.9" r="2.0" fill="#000"/>
<circle cx="493.6" cy="271.3" r="2.0" fill="#000"/>
<circle cx="485.8" cy="274.7" r="2.0" fill="#000"/>
<circle cx="478" cy="277.8" r="2.0" fill="#000"/>
<circle cx="485.8" cy="281.4" r="2.0" fill="#000"/>
<circle cx="478" cy="283.7" r="2.0" fill="#000"/>
<circle cx="485.8" cy="287.6" r="2.0" fill="#000"/>
<circle cx="478" cy="289.6" r="2.0" fill="#000"/>
<line x1="402.05" y1="276.3" x2="402.05" y2="280.1" stroke="#000" stroke-width="1.1" />
<line x1="394.45" y1="276.3" x2="409.65000000000003" y2="276.3" stroke="#000" stroke-width="1.1" />
<line x1="394.45" y1="282.2" x2="409.65000000000003" y2="282.2" stroke="#8a8a8a" stroke-width="1.6" />
<line x1="402.05" y1="280.1" x2="402.05" y2="282.2" stroke="#333" stroke-width="1.1" />
<line x1="442.0" y1="288.7" x2="442.0" y2="291.5" stroke="#000" stroke-width="1.1" />
<line x1="434.4" y1="288.7" x2="449.6" y2="288.7" stroke="#000" stroke-width="1.1" />
<line x1="482.15" y1="268.5" x2="482.15" y2="272.2" stroke="#000" stroke-width="1.1" />
<line x1="474.54999999999995" y1="268.5" x2="489.75" y2="268.5" stroke="#000" stroke-width="1.1" />
<line x1="474.54999999999995" y1="273.9" x2="489.75" y2="273.9" stroke="#8a8a8a" stroke-width="1.6" />
<line x1="482.15" y1="272.2" x2="482.15" y2="273.9" stroke="#333" stroke-width="1.1" />
<line x1="369.9" y1="224.20000000000002" x2="369.9" y2="321.25" stroke="#000" stroke-width="1.3" />
<line x1="369.9" y1="296.6125" x2="514.1" y2="296.6125" stroke="#000" stroke-width="1.5" />
<line x1="369.9" y1="320.55" x2="514.1" y2="320.55" stroke="#000" stroke-width="1.5" />
<line x1="402.05" y1="320.55" x2="402.05" y2="324.55" stroke="#000" stroke-width="1.5" />
<text x="388.50" y="333.3" font-size="7.3" font-weight="bold" fill="#111" stroke="#111" stroke-width="0.22" textLength="27.04" lengthAdjust="spacingAndGlyphs" >Control</text>
<line x1="442.0" y1="320.55" x2="442.0" y2="324.55" stroke="#000" stroke-width="1.5" />
<text x="431.51" y="333.3" font-size="7.3" font-weight="bold" fill="#111" stroke="#111" stroke-width="0.22" textLength="21.24" lengthAdjust="spacingAndGlyphs" >CONV</text>
<line x1="482.15" y1="320.55" x2="482.15" y2="324.55" stroke="#000" stroke-width="1.5" />
<text x="469.70" y="333.3" font-size="7.3" font-weight="bold" fill="#111" stroke="#111" stroke-width="0.22" textLength="24.60" lengthAdjust="spacingAndGlyphs" >FLASH</text>
<polyline points="401.9,255.4 401.9,242.8 439.8,242.8 439.8,271.8" fill="none" stroke="#333" stroke-width="1"/>
<path d="M421.10 233.90L421.10 238.50M419.11 235.05L423.09 237.35M419.11 237.35L423.09 235.05" stroke="#111" stroke-width="0.95" fill="none"/>
<circle cx="421.10" cy="236.20" r="1.25" fill="#111"/>
<polyline points="443.4,271.8 443.4,242.8 481.8,242.8 481.8,248.1" fill="none" stroke="#333" stroke-width="1"/>
<path d="M455.00 233.90L455.00 238.50M453.01 235.05L456.99 237.35M453.01 237.35L456.99 235.05" stroke="#111" stroke-width="0.95" fill="none"/>
<circle cx="455.00" cy="236.20" r="1.25" fill="#111"/>
<path d="M460.40 233.90L460.40 238.50M458.41 235.05L462.39 237.35M458.41 237.35L462.39 235.05" stroke="#111" stroke-width="0.95" fill="none"/>
<circle cx="460.40" cy="236.20" r="1.25" fill="#111"/>
<path d="M465.80 233.90L465.80 238.50M463.81 235.05L467.79 237.35M463.81 237.35L467.79 235.05" stroke="#111" stroke-width="0.95" fill="none"/>
<circle cx="465.80" cy="236.20" r="1.25" fill="#111"/>
<path d="M471.20 233.90L471.20 238.50M469.21 235.05L473.19 237.35M469.21 237.35L473.19 235.05" stroke="#111" stroke-width="0.95" fill="none"/>
<circle cx="471.20" cy="236.20" r="1.25" fill="#111"/>
<text x="179.7" y="425.9" font-size="10.9" font-weight="bold" stroke="#000" stroke-width="0.22" text-anchor="middle" textLength="123.4" lengthAdjust="spacingAndGlyphs" transform="rotate(-90 179.7 425.9)">Discrimination index (%)</text>
<line x1="195.4" y1="380.2" x2="198.8" y2="380.2" stroke="#000" stroke-width="1.4" />
<text x="186.70000000000002" y="383.05" font-size="8.2" font-weight="bold" fill="#111" stroke="#111" stroke-width="0.2" textLength="8.1" lengthAdjust="spacingAndGlyphs">60</text>
<line x1="195.4" y1="404.575" x2="198.8" y2="404.575" stroke="#000" stroke-width="1.4" />
<text x="186.70000000000002" y="407.425" font-size="8.2" font-weight="bold" fill="#111" stroke="#111" stroke-width="0.2" textLength="8.1" lengthAdjust="spacingAndGlyphs">40</text>
<line x1="195.4" y1="428.95" x2="198.8" y2="428.95" stroke="#000" stroke-width="1.4" />
<text x="186.70000000000002" y="431.8" font-size="8.2" font-weight="bold" fill="#111" stroke="#111" stroke-width="0.2" textLength="8.1" lengthAdjust="spacingAndGlyphs">20</text>
<line x1="195.4" y1="453.325" x2="198.8" y2="453.325" stroke="#000" stroke-width="1.4" />
<text x="190.8" y="456.175" font-size="8.2" font-weight="bold" fill="#111" stroke="#111" stroke-width="0.2" textLength="4.0" lengthAdjust="spacingAndGlyphs">0</text>
<line x1="195.4" y1="477.7" x2="198.8" y2="477.7" stroke="#000" stroke-width="1.4" />
<text x="184.8" y="480.55" font-size="8.2" font-weight="bold" fill="#111" stroke="#111" stroke-width="0.2" textLength="10.0" lengthAdjust="spacingAndGlyphs">-20</text>
<rect x="216.35" y="430.2" width="30.200000000000017" height="23.12500000000001" fill="#fff" stroke="#000" stroke-width="1.6"/>
<rect x="257.05" y="439.7" width="30.30000000000001" height="13.62500000000001" fill="url(#hOr)" stroke="#000" stroke-width="1.6"/>
<rect x="297.75" y="433.5" width="29.899999999999977" height="19.825" fill="url(#hBl)" stroke="#000" stroke-width="1.6"/>
<circle cx="231.2" cy="404.6" r="2.0" fill="#000"/>
<circle cx="231.2" cy="415.8" r="2.0" fill="#000"/>
<circle cx="223.5" cy="421.7" r="2.0" fill="#000"/>
<circle cx="231.2" cy="424.7" r="2.0" fill="#000"/>
<circle cx="223.5" cy="429.4" r="2.0" fill="#000"/>
<circle cx="223.5" cy="433.2" r="2.0" fill="#000"/>
<circle cx="239.2" cy="432.2" r="2.0" fill="#000"/>
<circle cx="239.2" cy="436.3" r="2.0" fill="#000"/>
<circle cx="231.2" cy="439.9" r="2.0" fill="#000"/>
<circle cx="223.5" cy="443.7" r="2.0" fill="#000"/>
<circle cx="239.2" cy="443.1" r="2.0" fill="#000"/>
<circle cx="264.2" cy="418.6" r="2.0" fill="#000"/>
<circle cx="280.1" cy="419.8" r="2.0" fill="#000"/>
<circle cx="272.2" cy="423.5" r="2.0" fill="#000"/>
<circle cx="280.1" cy="427.5" r="2.0" fill="#000"/>
<circle cx="272.2" cy="431.4" r="2.0" fill="#000"/>
<circle cx="280.1" cy="432.6" r="2.0" fill="#000"/>
<circle cx="264.2" cy="434.5" r="2.0" fill="#000"/>
<circle cx="280.1" cy="437.5" r="2.0" fill="#000"/>
<circle cx="272.2" cy="440.6" r="2.0" fill="#000"/>
<circle cx="264.2" cy="444" r="2.0" fill="#000"/>
<circle cx="272.2" cy="448.9" r="2.0" fill="#000"/>
<circle cx="280.1" cy="447.9" r="2.0" fill="#000"/>
<circle cx="280.1" cy="453.4" r="2.0" fill="#000"/>
<circle cx="272.2" cy="456.2" r="2.0" fill="#000"/>
<circle cx="272.2" cy="462" r="2.0" fill="#000"/>
<circle cx="309" cy="415.9" r="2.0" fill="#000"/>
<circle cx="316.9" cy="414" r="2.0" fill="#000"/>
<circle cx="301.2" cy="428" r="2.0" fill="#000"/>
<circle cx="309" cy="429.9" r="2.0" fill="#000"/>
<circle cx="316.9" cy="429.6" r="2.0" fill="#000"/>
<circle cx="324.5" cy="431.7" r="2.0" fill="#000"/>
<circle cx="301.2" cy="432.8" r="2.0" fill="#000"/>
<circle cx="324.5" cy="435.3" r="2.0" fill="#000"/>
<circle cx="309" cy="440" r="2.0" fill="#000"/>
<circle cx="316.9" cy="439.5" r="2.0" fill="#000"/>
<circle cx="324.5" cy="442" r="2.0" fill="#000"/>
<circle cx="312.7" cy="450.7" r="2.0" fill="#000"/>
<line x1="231.45" y1="425.8" x2="231.45" y2="429.9" stroke="#000" stroke-width="1.1" />
<line x1="223.85" y1="425.8" x2="239.04999999999998" y2="425.8" stroke="#000" stroke-width="1.1" />
<line x1="223.85" y1="432.8" x2="239.04999999999998" y2="432.8" stroke="#8a8a8a" stroke-width="1.6" />
<line x1="231.45" y1="429.9" x2="231.45" y2="432.8" stroke="#333" stroke-width="1.1" />
<line x1="272.20000000000005" y1="435.4" x2="272.20000000000005" y2="439.4" stroke="#000" stroke-width="1.1" />
<line x1="264.6" y1="435.4" x2="279.80000000000007" y2="435.4" stroke="#000" stroke-width="1.1" />
<line x1="264.6" y1="441.8" x2="279.80000000000007" y2="441.8" stroke="#8a8a8a" stroke-width="1.6" />
<line x1="272.20000000000005" y1="439.4" x2="272.20000000000005" y2="441.8" stroke="#333" stroke-width="1.1" />
<line x1="312.7" y1="429.6" x2="312.7" y2="433.2" stroke="#000" stroke-width="1.1" />
<line x1="305.09999999999997" y1="429.6" x2="320.3" y2="429.6" stroke="#000" stroke-width="1.1" />
<line x1="305.09999999999997" y1="434.7" x2="320.3" y2="434.7" stroke="#8a8a8a" stroke-width="1.6" />
<line x1="312.7" y1="433.2" x2="312.7" y2="434.7" stroke="#333" stroke-width="1.1" />
<line x1="198.8" y1="379.59999999999997" x2="198.8" y2="478.4" stroke="#000" stroke-width="1.3" />
<line x1="198.8" y1="453.325" x2="345.9" y2="453.325" stroke="#000" stroke-width="1.5" />
<line x1="198.8" y1="477.7" x2="345.9" y2="477.7" stroke="#000" stroke-width="1.5" />
<line x1="231.45" y1="477.7" x2="231.45" y2="481.7" stroke="#000" stroke-width="1.5" />
<text x="218.40" y="490.0" font-size="7.3" font-weight="bold" fill="#111" stroke="#111" stroke-width="0.22" textLength="26.73" lengthAdjust="spacingAndGlyphs" >Control</text>
<line x1="272.20000000000005" y1="477.7" x2="272.20000000000005" y2="481.7" stroke="#000" stroke-width="1.5" />
<text x="261.61" y="490.0" font-size="7.3" font-weight="bold" fill="#111" stroke="#111" stroke-width="0.22" textLength="21.14" lengthAdjust="spacingAndGlyphs" >CONV</text>
<line x1="312.7" y1="477.7" x2="312.7" y2="481.7" stroke="#000" stroke-width="1.5" />
<text x="300.19" y="490.0" font-size="7.3" font-weight="bold" fill="#111" stroke="#111" stroke-width="0.22" textLength="25.23" lengthAdjust="spacingAndGlyphs" >FLASH</text>
<polyline points="231.4,398.4 231.4,393.1 270.2,393.1 270.2,412.6" fill="none" stroke="#333" stroke-width="1"/>
<text x="251.0" y="388.4" font-size="9.2" text-anchor="middle" fill="#333" stroke="#333" stroke-width="0.25" textLength="7.9" lengthAdjust="spacingAndGlyphs">ns</text>
<polyline points="273.9,412.6 273.9,393.1 312.8,393.1 312.8,407.5" fill="none" stroke="#333" stroke-width="1"/>
<text x="293.9" y="388.4" font-size="9.2" text-anchor="middle" fill="#333" stroke="#333" stroke-width="0.25" textLength="7.9" lengthAdjust="spacingAndGlyphs">ns</text>
<line x1="367.6" y1="380.0" x2="371.0" y2="380.0" stroke="#000" stroke-width="1.4" />
<text x="358.9" y="382.85" font-size="8.2" font-weight="bold" fill="#111" stroke="#111" stroke-width="0.2" textLength="8.1" lengthAdjust="spacingAndGlyphs">60</text>
<line x1="367.6" y1="404.425" x2="371.0" y2="404.425" stroke="#000" stroke-width="1.4" />
<text x="358.9" y="407.27500000000003" font-size="8.2" font-weight="bold" fill="#111" stroke="#111" stroke-width="0.2" textLength="8.1" lengthAdjust="spacingAndGlyphs">40</text>
<line x1="367.6" y1="428.85" x2="371.0" y2="428.85" stroke="#000" stroke-width="1.4" />
<text x="358.9" y="431.70000000000005" font-size="8.2" font-weight="bold" fill="#111" stroke="#111" stroke-width="0.2" textLength="8.1" lengthAdjust="spacingAndGlyphs">20</text>
<line x1="367.6" y1="453.275" x2="371.0" y2="453.275" stroke="#000" stroke-width="1.4" />
<text x="363.0" y="456.125" font-size="8.2" font-weight="bold" fill="#111" stroke="#111" stroke-width="0.2" textLength="4.0" lengthAdjust="spacingAndGlyphs">0</text>
<line x1="367.6" y1="477.7" x2="371.0" y2="477.7" stroke="#000" stroke-width="1.4" />
<text x="357.0" y="480.55" font-size="8.2" font-weight="bold" fill="#111" stroke="#111" stroke-width="0.2" textLength="10.0" lengthAdjust="spacingAndGlyphs">-20</text>
<rect x="388.35" y="431.6" width="30.19999999999999" height="21.674999999999965" fill="#fff" stroke="#000" stroke-width="1.6"/>
<rect x="429.35" y="443.5" width="29.599999999999966" height="9.774999999999988" fill="url(#hRd)" stroke="#000" stroke-width="1.6"/>
<rect x="470.15" y="426.8" width="30.5" height="26.474999999999977" fill="url(#hTl)" stroke="#000" stroke-width="1.6"/>
<circle cx="399.9" cy="419.6" r="2.0" fill="#000"/>
<circle cx="407.2" cy="417.9" r="2.0" fill="#000"/>
<circle cx="389.3" cy="425.7" r="2.0" fill="#000"/>
<circle cx="396.3" cy="424.3" r="2.0" fill="#000"/>
<circle cx="403.6" cy="427.2" r="2.0" fill="#000"/>
<circle cx="410.9" cy="425.7" r="2.0" fill="#000"/>
<circle cx="417.9" cy="425.7" r="2.0" fill="#000"/>
<circle cx="396.3" cy="433" r="2.0" fill="#000"/>
<circle cx="403.6" cy="433" r="2.0" fill="#000"/>
<circle cx="410.9" cy="433.6" r="2.0" fill="#000"/>
<circle cx="396.3" cy="437.3" r="2.0" fill="#000"/>
<circle cx="396.3" cy="441.4" r="2.0" fill="#000"/>
<circle cx="403.6" cy="440" r="2.0" fill="#000"/>
<circle cx="410.9" cy="440.9" r="2.0" fill="#000"/>
<circle cx="437.2" cy="427.5" r="2.0" fill="#000"/>
<circle cx="444.6" cy="426.9" r="2.0" fill="#000"/>
<circle cx="451.9" cy="427.7" r="2.0" fill="#000"/>
<circle cx="459.2" cy="424.6" r="2.0" fill="#000"/>
<circle cx="444.6" cy="431.3" r="2.0" fill="#000"/>
<circle cx="429.9" cy="442" r="2.0" fill="#000"/>
<circle cx="459.2" cy="443.6" r="2.0" fill="#000"/>
<circle cx="437.2" cy="445.3" r="2.0" fill="#000"/>
<circle cx="444.6" cy="445.3" r="2.0" fill="#000"/>
<circle cx="451.9" cy="445.3" r="2.0" fill="#000"/>
<circle cx="441.1" cy="462.2" r="2.0" fill="#000"/>
<circle cx="448.5" cy="463.4" r="2.0" fill="#000"/>
<circle cx="444.6" cy="470.1" r="2.0" fill="#000"/>
<circle cx="485.3" cy="406.3" r="2.0" fill="#000"/>
<circle cx="489.2" cy="412.2" r="2.0" fill="#000"/>
<circle cx="481.3" cy="415.5" r="2.0" fill="#000"/>
<circle cx="473.3" cy="419.5" r="2.0" fill="#000"/>
<circle cx="481.3" cy="421.2" r="2.0" fill="#000"/>
<circle cx="489.2" cy="420.2" r="2.0" fill="#000"/>
<circle cx="497.2" cy="419.1" r="2.0" fill="#000"/>
<circle cx="473.3" cy="423.5" r="2.0" fill="#000"/>
<circle cx="497.2" cy="423.5" r="2.0" fill="#000"/>
<circle cx="489.2" cy="428.8" r="2.0" fill="#000"/>
<circle cx="481.3" cy="432.4" r="2.0" fill="#000"/>
<circle cx="489.2" cy="435" r="2.0" fill="#000"/>
<circle cx="481.3" cy="437.6" r="2.0" fill="#000"/>
<circle cx="489.2" cy="445.3" r="2.0" fill="#000"/>
<circle cx="481.3" cy="448.6" r="2.0" fill="#000"/>
<line x1="403.45000000000005" y1="428.5" x2="403.45000000000005" y2="431.3" stroke="#000" stroke-width="1.1" />
<line x1="395.85" y1="428.5" x2="411.05000000000007" y2="428.5" stroke="#000" stroke-width="1.1" />
<line x1="395.85" y1="432.2" x2="411.05000000000007" y2="432.2" stroke="#8a8a8a" stroke-width="1.6" />
<line x1="403.45000000000005" y1="431.3" x2="403.45000000000005" y2="432.2" stroke="#333" stroke-width="1.1" />
<line x1="444.15" y1="438.3" x2="444.15" y2="443.2" stroke="#000" stroke-width="1.1" />
<line x1="436.54999999999995" y1="438.3" x2="451.75" y2="438.3" stroke="#000" stroke-width="1.1" />
<line x1="485.4" y1="422.8" x2="485.4" y2="426.5" stroke="#000" stroke-width="1.1" />
<line x1="477.79999999999995" y1="422.8" x2="493.0" y2="422.8" stroke="#000" stroke-width="1.1" />
<line x1="477.79999999999995" y1="428.8" x2="493.0" y2="428.8" stroke="#8a8a8a" stroke-width="1.6" />
<line x1="485.4" y1="426.5" x2="485.4" y2="428.8" stroke="#333" stroke-width="1.1" />
<line x1="371.0" y1="379.4" x2="371.0" y2="478.4" stroke="#000" stroke-width="1.3" />
<line x1="371.0" y1="453.275" x2="518.5" y2="453.275" stroke="#000" stroke-width="1.5" />
<line x1="371.0" y1="477.7" x2="518.5" y2="477.7" stroke="#000" stroke-width="1.5" />
<line x1="403.45000000000005" y1="477.7" x2="403.45000000000005" y2="481.7" stroke="#000" stroke-width="1.5" />
<text x="390.09" y="489.8" font-size="7.3" font-weight="bold" fill="#111" stroke="#111" stroke-width="0.22" textLength="27.14" lengthAdjust="spacingAndGlyphs" >Control</text>
<line x1="444.15" y1="477.7" x2="444.15" y2="481.7" stroke="#000" stroke-width="1.5" />
<text x="433.89" y="489.8" font-size="7.3" font-weight="bold" fill="#111" stroke="#111" stroke-width="0.22" textLength="22.26" lengthAdjust="spacingAndGlyphs" >CONV</text>
<line x1="485.4" y1="477.7" x2="485.4" y2="481.7" stroke="#000" stroke-width="1.5" />
<text x="474.10" y="489.8" font-size="7.3" font-weight="bold" fill="#111" stroke="#111" stroke-width="0.22" textLength="24.50" lengthAdjust="spacingAndGlyphs" >FLASH</text>
<polyline points="403.2,411.9 403.2,394.6 442.9,394.6 442.9,418.9" fill="none" stroke="#333" stroke-width="1"/>
<path d="M422.80 385.40L422.80 390.00M420.81 386.55L424.79 388.85M420.81 388.85L424.79 386.55" stroke="#111" stroke-width="0.95" fill="none"/>
<circle cx="422.80" cy="387.70" r="1.25" fill="#111"/>
<polyline points="446.2,418.9 446.2,394.6 485.5,394.6 485.5,400.0" fill="none" stroke="#333" stroke-width="1"/>
<path d="M462.50 385.40L462.50 390.00M460.51 386.55L464.49 388.85M460.51 388.85L464.49 386.55" stroke="#111" stroke-width="0.95" fill="none"/>
<circle cx="462.50" cy="387.70" r="1.25" fill="#111"/>
<path d="M468.50 385.40L468.50 390.00M466.51 386.55L470.49 388.85M466.51 388.85L470.49 386.55" stroke="#111" stroke-width="0.95" fill="none"/>
<circle cx="468.50" cy="387.70" r="1.25" fill="#111"/>
</svg></body></html>
